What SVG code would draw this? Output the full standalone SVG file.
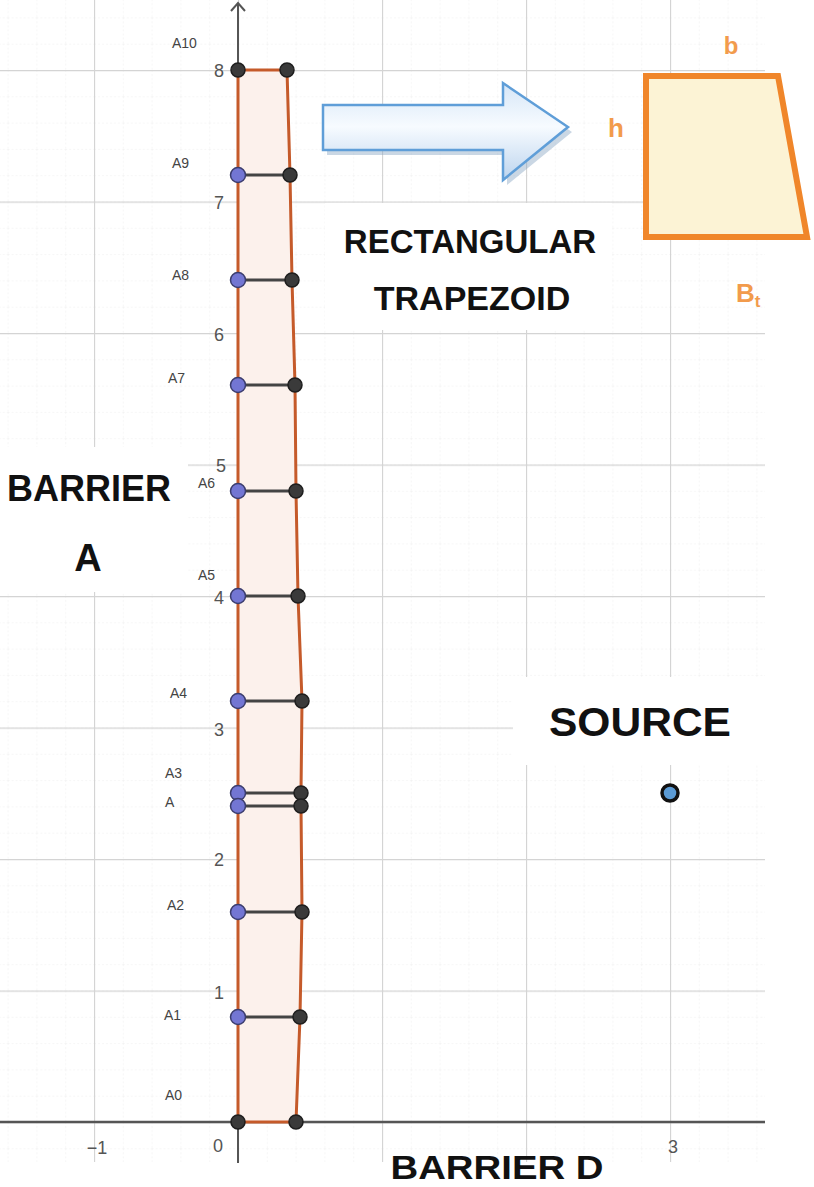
<svg xmlns="http://www.w3.org/2000/svg" width="814" height="1187" viewBox="0 0 814 1187">
<defs>
<pattern id="minor" patternUnits="userSpaceOnUse" x="7.6" y="17.4" width="28.8" height="26.3">
<path d="M0,0 H28.8 M0,0 V26.3" stroke="#eeeeee" stroke-width="1" fill="none" stroke-dasharray="2 2"/>
</pattern>
<pattern id="major" patternUnits="userSpaceOnUse" x="94" y="70" width="144" height="131.5">
<path d="M0,0.5 H144 M0.5,0 V131.5" stroke="#d4d4d4" stroke-width="1.3" fill="none"/>
</pattern>
<linearGradient id="arrowGrad" x1="0" y1="0" x2="0" y2="1">
<stop offset="0" stop-color="#d6e6f7"/>
<stop offset="0.45" stop-color="#f7fbff"/>
<stop offset="1" stop-color="#bcd4ee"/>
</linearGradient>
<style>
.ptB{fill:#7376d3;stroke:#3b3d6e;stroke-width:1.5}
.ptK{fill:#3a3a3a;stroke:#1e1e1e;stroke-width:1.5}
.seg{stroke:#444;stroke-width:3;fill:none}
.tick{font-family:"Liberation Sans",Arial,sans-serif;font-size:18px;fill:#555}
.lbl{font-family:"Liberation Sans",Arial,sans-serif;font-size:14px;fill:#444}
.big{font-family:"Liberation Sans",Arial,sans-serif;font-weight:bold;fill:#111}
.orng{font-family:"Liberation Sans",Arial,sans-serif;font-weight:bold;fill:#f29b4c}
</style>
</defs>
<rect width="814" height="1187" fill="#ffffff"/>
<g id="grid">
<rect x="0" y="0" width="765" height="1162" fill="url(#minor)"/>
<rect x="0" y="0" width="765" height="1162" fill="url(#major)"/>
</g>
<g id="label-boxes" fill="#ffffff">
<rect x="0" y="447" width="188" height="145"/>
<rect x="325" y="203" width="287" height="127"/>
<rect x="513" y="677" width="252" height="88"/>
</g>
<g id="axes" stroke="#555" fill="none">
<line x1="0" y1="1122" x2="765" y2="1122" stroke-width="2.5"/>
<line x1="238" y1="3" x2="238" y2="1163" stroke-width="2"/>
<polyline points="231,11 238,3 245,11" stroke-width="2"/>
</g>
<g id="tick-labels" class="tick">
<text x="224" y="77" text-anchor="end">8</text>
<text x="224" y="209" text-anchor="end">7</text>
<text x="224" y="341" text-anchor="end">6</text>
<text x="226" y="472" text-anchor="end">5</text>
<text x="224" y="604" text-anchor="end">4</text>
<text x="224" y="736" text-anchor="end">3</text>
<text x="224" y="866" text-anchor="end">2</text>
<text x="224" y="999" text-anchor="end">1</text>
<text x="223" y="1152" text-anchor="end">0</text>
<text x="97" y="1154" text-anchor="middle">−1</text>
<text x="673" y="1153" text-anchor="middle">3</text>
</g>
<g id="barrier-polygon">
<polygon points="238,70 287,70 290,175 292,280 295,385 296,491 298,596 302,701 301,793 301,806 302,912 300,1017 296,1122 238,1122" fill="#fcf1ec" stroke="#c55a2a" stroke-width="3"/>
</g>
<g id="connectors">
<line class="seg" x1="238" y1="175" x2="290" y2="175"/>
<line class="seg" x1="238" y1="280" x2="292" y2="280"/>
<line class="seg" x1="238" y1="385" x2="295" y2="385"/>
<line class="seg" x1="238" y1="491" x2="296" y2="491"/>
<line class="seg" x1="238" y1="596" x2="298" y2="596"/>
<line class="seg" x1="238" y1="701" x2="302" y2="701"/>
<line class="seg" x1="238" y1="793" x2="301" y2="793"/>
<line class="seg" x1="238" y1="806" x2="301" y2="806"/>
<line class="seg" x1="238" y1="912" x2="302" y2="912"/>
<line class="seg" x1="238" y1="1017" x2="300" y2="1017"/>
</g>
<g id="A10"><circle class="ptK" cx="238" cy="70" r="7"/><circle class="ptK" cx="287" cy="70" r="7"/><text class="lbl" x="172" y="48">A10</text></g>
<g id="A9"><circle class="ptB" cx="238" cy="175" r="7.5"/><circle class="ptK" cx="290" cy="175" r="7"/><text class="lbl" x="172" y="168">A9</text></g>
<g id="A8"><circle class="ptB" cx="238" cy="280" r="7.5"/><circle class="ptK" cx="292" cy="280" r="7"/><text class="lbl" x="172" y="280">A8</text></g>
<g id="A7"><circle class="ptB" cx="238" cy="385" r="7.5"/><circle class="ptK" cx="295" cy="385" r="7"/><text class="lbl" x="168" y="383">A7</text></g>
<g id="A6"><circle class="ptB" cx="238" cy="491" r="7.5"/><circle class="ptK" cx="296" cy="491" r="7"/><text class="lbl" x="198" y="488">A6</text></g>
<g id="A5"><circle class="ptB" cx="238" cy="596" r="7.5"/><circle class="ptK" cx="298" cy="596" r="7"/><text class="lbl" x="198" y="580">A5</text></g>
<g id="A4"><circle class="ptB" cx="238" cy="701" r="7.5"/><circle class="ptK" cx="302" cy="701" r="7"/><text class="lbl" x="170" y="698">A4</text></g>
<g id="A3"><circle class="ptB" cx="238" cy="793" r="7.5"/><circle class="ptK" cx="301" cy="793" r="7"/><text class="lbl" x="165" y="778">A3</text></g>
<g id="A"><circle class="ptB" cx="238" cy="806" r="7.5"/><circle class="ptK" cx="301" cy="806" r="7"/><text class="lbl" x="165" y="807">A</text></g>
<g id="A2"><circle class="ptB" cx="238" cy="912" r="7.5"/><circle class="ptK" cx="302" cy="912" r="7"/><text class="lbl" x="167" y="910">A2</text></g>
<g id="A1"><circle class="ptB" cx="238" cy="1017" r="7.5"/><circle class="ptK" cx="300" cy="1017" r="7"/><text class="lbl" x="164" y="1020">A1</text></g>
<g id="A0"><circle class="ptK" cx="238" cy="1122" r="7"/><circle class="ptK" cx="296" cy="1122" r="7"/><text class="lbl" x="165" y="1100">A0</text></g>
<g id="source">
<circle cx="670" cy="793" r="8" fill="#5b9bd5" stroke="#111" stroke-width="3.5"/>
<text class="big" x="640" y="736" font-size="40" text-anchor="middle" textLength="182" lengthAdjust="spacingAndGlyphs">SOURCE</text>
</g>
<g id="block-arrow">
<path d="M327,110 H507 V88 L572,132 L507,185 V155 H327 Z" fill="#8aa6c4" opacity="0.45"/>
<path d="M323,105 H503 V83 L568,127 L503,180 V150 H323 Z" fill="url(#arrowGrad)" stroke="#5f9ed8" stroke-width="2.5" stroke-linejoin="miter"/>
</g>
<g id="trapezoid">
<polygon points="646,76 778,76 807,237 646,237" fill="#fcf3d5" stroke="#f0862a" stroke-width="6" stroke-linejoin="miter"/>
<text class="orng" x="731" y="54" font-size="24" text-anchor="middle">b</text>
<text class="orng" x="616" y="137" font-size="26" text-anchor="middle">h</text>
<text class="orng" x="736" y="302" font-size="26">B<tspan font-size="17" dy="5">t</tspan></text>
</g>
<g id="titles">
<text class="big" x="470" y="253" font-size="33" text-anchor="middle">RECTANGULAR</text>
<text class="big" x="472" y="310" font-size="34" text-anchor="middle">TRAPEZOID</text>
<text class="big" x="89" y="501" font-size="36" text-anchor="middle">BARRIER</text>
<text class="big" x="88" y="571" font-size="38" text-anchor="middle">A</text>
<text class="big" x="497" y="1179" font-size="34" text-anchor="middle" textLength="213" lengthAdjust="spacingAndGlyphs">BARRIER D</text>
</g>
</svg>
